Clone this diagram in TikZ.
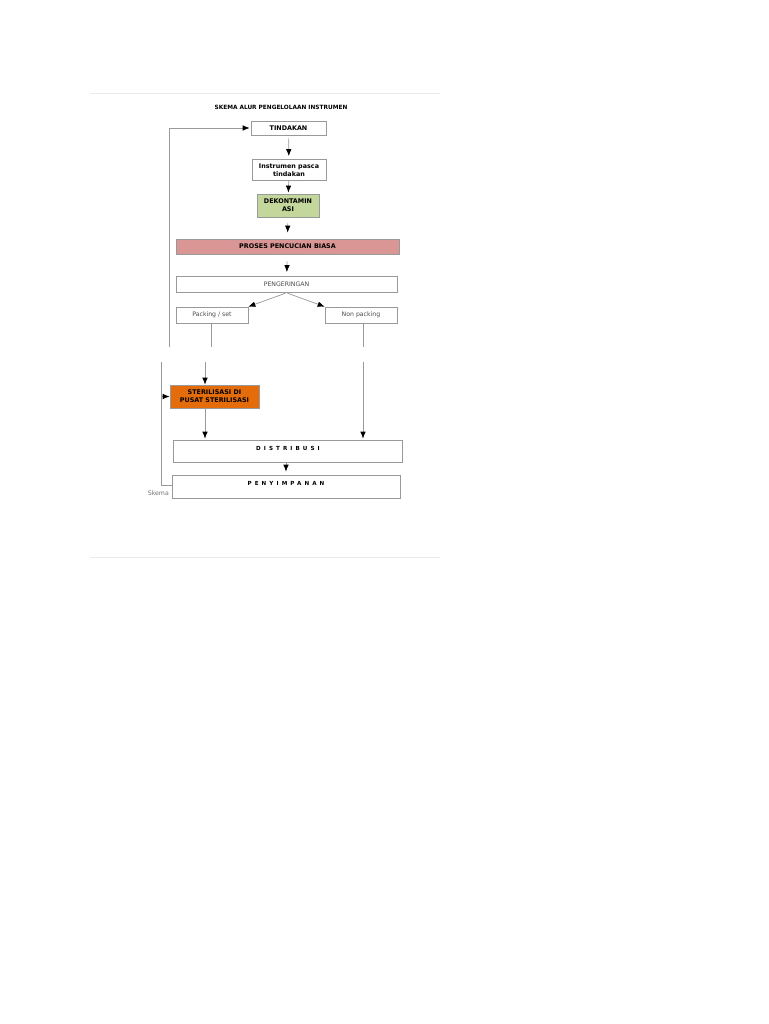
\documentclass[tikz,border=0pt]{standalone}
\usepackage{fontspec}
\setmainfont{DejaVu Sans}
\usetikzlibrary{arrows.meta}

\definecolor{dekongreen}{HTML}{C3D69B}
\definecolor{prosesred}{HTML}{D99694}
\definecolor{sterilorange}{HTML}{E46C0A}

\begin{document}
\begin{tikzpicture}[x=1pt,y=-1pt,
    box/.style={draw=black!40, line width=0.7pt, inner sep=0pt, align=center,
      font=\fontsize{6.4}{7.8}\selectfont\bfseries},
    plainbox/.style={box, font=\fontsize{6.2}{7}\selectfont, text=black!70},
    spaced/.style={font=\fontsize{5.6}{7}\selectfont\bfseries\addfontfeature{LetterSpace=55}},
    link/.style={draw=black!40, line width=0.7pt},
    arr/.style={link, -{Latex[length=7pt,width=5.5pt,black]}}]
  \useasboundingbox (0,0) rectangle (768,1024);
  \fill[white] (0,0) rectangle (768,1024);
  % frame of the page
  \draw[black!8] (90,93) -- (440,93);
  \draw[black!8] (90,557) -- (440,557);

  \node[font=\fontsize{5.8}{7}\selectfont\bfseries] (title) at (281,107) {SKEMA ALUR PENGELOLAAN INSTRUMEN};

  \node[box, minimum width=75pt, minimum height=14pt] (tindakan) at (288.5,128) {TINDAKAN};
  \node[box, minimum width=74pt, minimum height=21pt] (pasca) at (289,170) {Instrumen pasca\\tindakan};
  \node[box, fill=dekongreen, minimum width=62pt, minimum height=23pt] (dekon) at (288,205.5) {DEKONTAMIN\\ASI};
  \node[box, fill=prosesred, minimum width=223pt, minimum height=15pt] (proses) at (287.5,246.5) {PROSES PENCUCIAN BIASA};
  \node[plainbox, minimum width=221pt, minimum height=16pt] (kering) at (286.5,284.5) {PENGERINGAN};
  \node[plainbox, minimum width=72pt, minimum height=16pt] (packing) at (212,315) {Packing / set};
  \node[plainbox, minimum width=72pt, minimum height=16pt] (nonpack) at (361,315) {Non packing};

  \node[box, fill=sterilorange, minimum width=89pt, minimum height=23pt] (steril) at (214.5,396.5) {STERILISASI DI\\PUSAT STERILISASI};
  \node[box, minimum width=229pt, minimum height=22pt,
    label={[spaced, anchor=north, yshift=-3.5pt]north:DISTRIBUSI}] (distr) at (288,451) {};
  \node[box, minimum width=228pt, minimum height=23pt,
    label={[spaced, anchor=north, yshift=-3.5pt]north:PENYIMPANAN}] (peny) at (286,486.5) {};
  \node[font=\fontsize{6.2}{7}\selectfont, text=black!55, anchor=east, inner sep=0pt] (skema) at (169,493) {Skema};

  % ends of the cut lines
  \coordinate (loopA) at (169,347);
  \coordinate (packA) at (211,347);
  \coordinate (nonA) at (363,347);
  \coordinate (loopB) at (161,362);
  \coordinate (packB) at (205,362);
  \coordinate (nonB) at (363,362);

  \draw[arr, shorten <=3pt, shorten >=3pt] (tindakan) -- (pasca);
  \draw[arr, shorten >=1pt] (pasca) -- (dekon);
  \draw[arr, shorten <=6pt, shorten >=6pt] (dekon) -- (proses);
  \draw[arr, shorten <=7pt, shorten >=4pt] (proses) -- (kering);
  \draw[arr, shorten <=1pt] (kering.south) -- (packing.north east);
  \draw[arr, shorten <=1pt] (kering.south) -- (nonpack.north west);
  \draw[link] (packing.south -| packA) -- (packA);
  \draw[link] (nonpack.south -| nonA) -- (nonA);
  \draw[arr, shorten >=1pt] (loopA) -- (loopA |- tindakan.west) -- (tindakan.west);

  \draw[arr] (packB) -- (packB |- steril.north);
  \draw[arr, shorten >=1pt] (packB |- steril.south) -- (packB |- distr.north);
  \draw[arr, shorten >=1pt] (nonB) -- (nonB |- distr.north);
  \draw[arr, shorten >=3pt] (distr.south -| peny.north) -- (peny.north);
  \draw[link] (loopB) -- (loopB |- 0,485) -- (peny.west |- 0,485);
  \draw[arr] (loopB |- steril.west) -- (steril.west);
\end{tikzpicture}
\end{document}
